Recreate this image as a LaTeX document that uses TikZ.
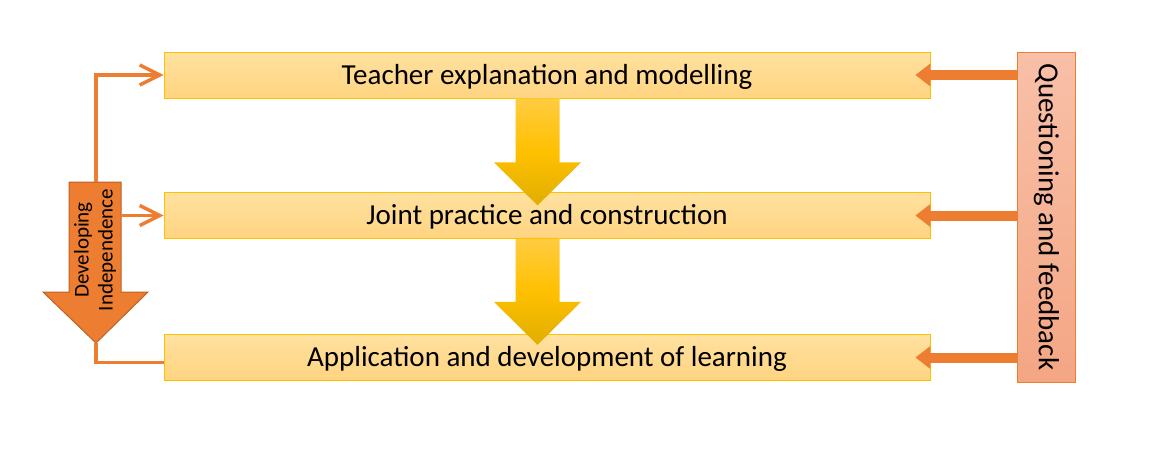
\documentclass[tikz,border=0pt]{standalone}
\usepackage{fontspec}
\setmainfont{Carlito}
\usetikzlibrary{arrows.meta,calc}
\definecolor{boxtop}{RGB}{255,225,160}
\definecolor{boxbot}{RGB}{255,212,128}
\definecolor{boxedge}{RGB}{255,192,0}
\definecolor{orng}{RGB}{237,125,49}
\definecolor{orngedge}{RGB}{190,95,35}
\definecolor{saltop}{RGB}{248,192,168}
\definecolor{salbot}{RGB}{244,166,132}
\definecolor{yeltop}{RGB}{255,204,64}
\definecolor{yelmid}{RGB}{255,192,0}
\definecolor{yelbot}{RGB}{224,174,0}
\tikzset{
  stagebox/.style={draw=boxedge, line width=0.8pt, top color=boxtop, bottom color=boxbot,
    minimum width=766pt, minimum height=46pt, inner sep=0pt, text height=18pt, text depth=0pt,
    font=\fontsize{29}{34}\selectfont},
  fbbox/.style={draw=orng, line width=0.8pt, top color=saltop, bottom color=salbot,
    minimum width=330pt, minimum height=58pt, inner sep=0pt, rotate=-90,
    font=\fontsize{29}{34}\selectfont},
  fbarrow/.style={draw=orng, line width=10pt, -{Triangle[length=15pt,width=22pt]}, shorten >=-15pt},
  indline/.style={draw=orng, line width=3.5pt},
  indarrow/.style={indline, -{Straight Barb[length=20pt,width=20pt,line width=3.5pt]}},
  yelarrow/.style={top color=yeltop, bottom color=yelbot, middle color=yelmid},
}
\begin{document}
\begin{tikzpicture}[x=1pt,y=-1pt]
\useasboundingbox (0,0) rectangle (1162,456);
% stage boxes
\node[stagebox] (b1) at (547,75) {Teacher explanation and modelling};
\node[stagebox] (b2) at (547,215.5) {Joint practice and construction};
\node[stagebox] (b3) at (547,357.5) {Application and development of learning};
% feedback box
\node[fbbox] (qf) at (1046.5,217) {Questioning and feedback};
% yellow block arrows
\coordinate (ya1) at ($(b1.south)+(-9.5,0)$);
\coordinate (ya2) at ($(b2.south)+(-9.5,0)$);
\shade[yelarrow] ($(ya1)+(-22,0)$) -- ++(0,64) -- ++(-21.5,0) -- ($(ya1)+(0,107)$)
  -- ++(43.5,-43) -- ++(-21.5,0) -- ++(0,-64) -- cycle;
\shade[yelarrow] ($(ya2)+(-22,0)$) -- ++(0,63) -- ++(-21.5,0) -- ($(ya2)+(0,106)$)
  -- ++(43.5,-43) -- ++(-21.5,0) -- ++(0,-63) -- cycle;
% feedback arrows (qf is rotated: its south anchor lies on its left side)
\draw[fbarrow] (qf.south |- b1) -- (b1.east);
\draw[fbarrow] (qf.south |- b2) -- (b2.east);
\draw[fbarrow] (qf.south |- b3) -- (b3.east);
% developing independence arrow
\coordinate (dtop) at (96,182);
\coordinate (dtip) at (96,343);
\coordinate (dright) at (121,215.5);
\draw[fill=orng, draw=orngedge, line width=1pt] (69,182) -- (121,182) -- (121,292) -- (148,292)
  -- (dtip) -- (43,292) -- (69,292) -- cycle;
\node[rotate=90, align=center, font=\fontsize{21}{24}\selectfont, inner sep=0pt] (di) at (95,250)
  {Developing\\Independence};
\draw[indarrow] (dtop) |- (b1.west);
\draw[indarrow] (dright) -- (b2.west);
\draw[indline] (dtip) |- ([yshift=-5pt]b3.west);
\end{tikzpicture}
\end{document}
